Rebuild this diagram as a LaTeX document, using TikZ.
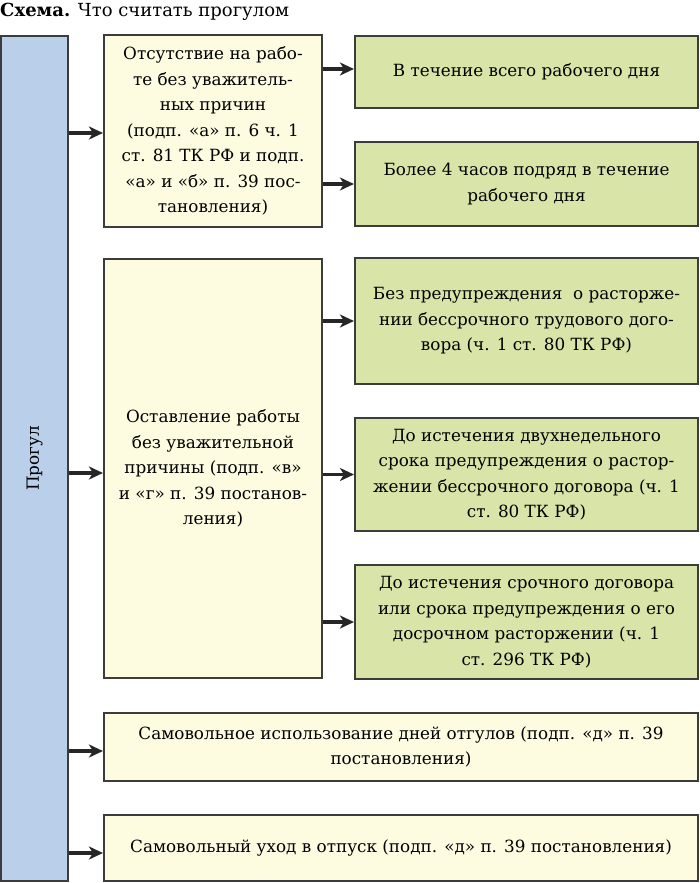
\documentclass[tikz,border=0pt]{standalone}
\usepackage{fontspec}
\setmainfont{DejaVu Serif}
\usetikzlibrary{arrows.meta}
\definecolor{bluefill}{HTML}{B9CFEA}
\definecolor{yelfill}{HTML}{FDFCE1}
\definecolor{grnfill}{HTML}{D9E5A8}
\definecolor{edge}{HTML}{3C3C3C}
\definecolor{arrcol}{HTML}{262626}
\tikzset{
  box/.style={draw=edge, line width=1.5pt, inner sep=0pt, align=center,
    font=\fontsize{16.8}{25.5}\selectfont, text=black},
  bbox/.style={box, fill=bluefill},
  ybox/.style={box, fill=yelfill},
  gbox/.style={box, fill=grnfill},
  arr/.style={draw=arrcol, line width=3.2pt, -{Stealth[length=14pt,width=13pt,inset=4pt]}, shorten >=0.3pt},
}
\begin{document}
\begin{tikzpicture}[x=1pt,y=-1pt]
\useasboundingbox (0,0) rectangle (700,883);
\node[anchor=west, inner sep=0pt, font=\fontsize{18}{20}\selectfont] (title) at (0,12) {\textbf{Схема.} Что считать прогулом};
% left blue column
\node[bbox, minimum width=67pt, minimum height=845pt] (blue) at (34.5,458.5) {};
\node[rotate=90, font=\fontsize{16.8}{20}\selectfont] (prog) at (blue.center) {Прогул};
% yellow boxes
\node[ybox, minimum width=218pt, minimum height=192pt] (y1) at (213,131) {Отсутствие на рабо-\\те без уважитель-\\ных причин\\(подп. «а» п. 6 ч. 1\\ст. 81 ТК РФ и подп.\\«а» и «б» п. 39 пос-\\тановления)};
\node[ybox, minimum width=218pt, minimum height=419pt] (y2) at (213,468.5) {Оставление работы\\без уважительной\\причины (подп. «в»\\и «г» п. 39 постанов-\\ления)};
\node[ybox, minimum width=594pt, minimum height=68pt] (y3) at (401,747) {Самовольное использование дней отгулов (подп. «д» п. 39\\постановления)};
\node[ybox, minimum width=594pt, minimum height=66pt] (y4) at (401,848) {Самовольный уход в отпуск (подп. «д» п. 39 постановления)};
% green boxes
\node[gbox, minimum width=343pt, minimum height=72pt] (g1) at (526.5,72) {В течение всего рабочего дня};
\node[gbox, minimum width=343pt, minimum height=84pt] (g2) at (526.5,184) {Более 4 часов подряд в течение\\рабочего дня};
\node[gbox, minimum width=343pt, minimum height=126pt] (g3) at (526.5,321) {Без предупреждения\ \ о расторже-\\нии бессрочного трудового дого-\\вора (ч. 1 ст. 80 ТК РФ)};
\node[gbox, minimum width=343pt, minimum height=113pt] (g4) at (526.5,474.5) {До истечения двухнедельного\\срока предупреждения о растор-\\жении бессрочного договора (ч. 1\\ст. 80 ТК РФ)};
\node[gbox, minimum width=343pt, minimum height=114pt] (g5) at (526.5,622) {До истечения срочного договора\\или срока предупреждения о его\\досрочном расторжении (ч. 1\\ст. 296 ТК РФ)};
% arrow anchors
\coordinate (c1) at (0,133);
\coordinate (c2) at (0,473);
\coordinate (c3) at (0,751);
\coordinate (c4) at (0,853);
\coordinate (d1) at (0,69);
% connectors
\draw[arr] (blue.east |- c1) -- (y1.west |- c1);
\draw[arr] (blue.east |- c2) -- (y2.west |- c2);
\draw[arr] (blue.east |- c3) -- (y3.west |- c3);
\draw[arr] (blue.east |- c4) -- (y4.west |- c4);
\draw[arr] (y1.east |- d1) -- (g1.west |- d1);
\draw[arr] (y1.east |- g2.west) -- (g2.west);
\draw[arr] (y2.east |- g3.west) -- (g3.west);
\draw[arr] (y2.east |- g4.west) -- (g4.west);
\draw[arr] (y2.east |- g5.west) -- (g5.west);
\end{tikzpicture}
\end{document}
